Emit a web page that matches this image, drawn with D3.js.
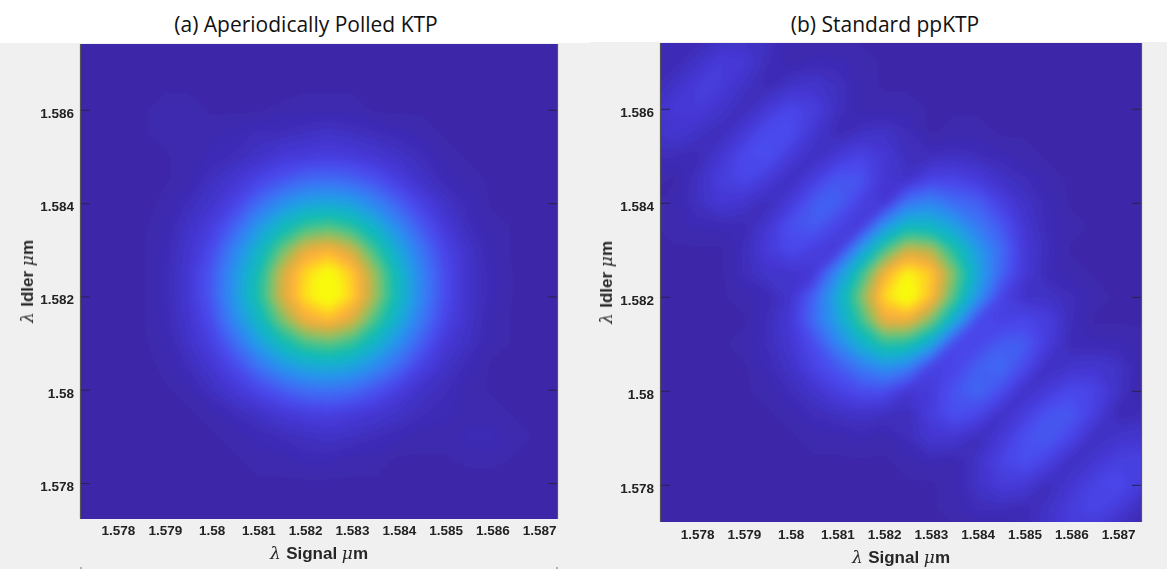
<!DOCTYPE html>
<html>
<head>
<meta charset="utf-8">
<script src="https://cdn.jsdelivr.net/npm/d3@7"></script>
<style>
html,body{margin:0;padding:0;background:#fff;overflow:hidden}
svg{display:block}
</style>
</head>
<body>
<svg id="chart" width="1167" height="569"></svg>
<script>
// Tick labels (micrometres)
const signalTicks = [1.578,1.579,1.58,1.581,1.582,1.583,1.584,1.585,1.586,1.587];
const idlerTicks  = [1.578,1.58,1.582,1.584,1.586];
const titleA = "(a) Aperiodically Polled KTP";
const titleB = "(b) Standard ppKTP";

// Wavelength grid for both panels: 22 samples per axis, 0.5 nm apart
const gridStart = 1.577, gridStep = 0.0005, gridSize = 22;

// Joint intensity, in percent of the peak.
// Rows run from the top of the plot (longest idler) to the bottom.
const aperiodicKTP = [
 [0,0,0,0,0,0,0,0,0,0,0,0,0,0,0,0,0,0,0,0,0,0],
 [0,0,1,1,0,0,0,0,0,0,0,0,0,0,0,0,0,0,0,0,0,0],
 [0,1,1,1,1,1,0,0,0,0,1,1,1,0,0,0,0,0,0,0,0,0],
 [0,0,1,1,2,2,1,1,1,2,2,2,2,1,1,1,0,0,0,0,0,0],
 [0,0,0,1,2,2,2,3,4,4,5,6,5,4,3,2,1,1,0,0,0,0],
 [0,0,0,0,1,2,3,4,6,9,10,11,10,8,6,4,2,1,1,0,0,0],
 [0,0,0,0,1,2,5,8,13,18,23,24,22,17,11,6,3,2,1,0,0,0],
 [0,0,0,0,2,4,7,13,24,34,40,42,39,31,21,12,6,3,1,1,0,0],
 [0,0,0,1,2,6,11,22,37,50,60,63,58,46,32,19,9,4,2,1,0,0],
 [0,0,0,1,3,7,15,31,47,66,80,84,77,60,42,26,13,6,2,1,0,0],
 [0,0,0,1,3,8,19,36,54,77,90,96,88,71,49,30,15,6,3,1,1,0],
 [0,0,0,1,3,8,19,37,56,78,91,98,89,72,50,31,15,6,3,1,1,0],
 [0,0,0,1,3,7,16,33,49,68,82,86,79,62,44,27,13,6,2,1,0,0],
 [0,0,0,1,2,6,12,24,39,52,62,65,60,48,34,20,9,5,2,1,0,0],
 [0,0,0,0,2,4,8,15,26,36,42,44,41,33,23,12,6,3,1,1,0,0],
 [0,0,0,0,1,2,5,9,14,20,25,26,24,18,11,6,4,2,1,0,0,0],
 [0,0,0,0,0,1,2,4,6,9,11,12,10,8,6,4,3,2,2,1,0,0],
 [0,0,0,0,0,0,1,2,3,4,5,6,5,4,3,2,2,3,3,2,1,0],
 [0,0,0,0,0,0,0,1,2,2,3,3,2,2,1,1,1,2,2,1,1,0],
 [0,0,0,0,0,0,0,0,1,1,1,1,1,1,1,1,0,0,0,0,0,0],
 [0,0,0,0,0,0,0,0,0,0,0,0,0,0,0,0,0,0,0,0,0,0],
 [0,0,0,0,0,0,0,0,0,0,0,0,0,0,0,0,0,0,0,0,0,0]
];
const standardPpKTP = [
 [3,4,3,5,6,5,2,1,1,1,1,1,0,0,0,0,0,0,0,0,0,0],
 [4,3,6,10,9,4,2,3,3,2,1,1,1,0,0,0,0,0,0,0,0,0],
 [3,6,10,10,6,3,6,7,5,2,1,1,1,1,0,0,0,0,0,0,0,0],
 [5,9,10,7,4,9,14,11,5,2,2,2,1,1,1,1,0,0,0,0,0,0],
 [6,8,6,4,9,16,16,8,3,5,6,4,1,2,2,1,1,1,0,0,0,0],
 [4,4,3,8,15,17,10,5,9,13,9,4,4,5,4,3,2,1,1,0,0,0],
 [2,1,5,11,14,10,5,11,19,18,8,6,13,13,10,6,4,2,1,1,1,0],
 [1,2,5,9,7,4,10,20,21,12,8,27,31,24,21,12,6,3,1,1,1,0],
 [1,2,3,3,3,8,17,20,13,10,36,50,48,40,28,19,8,3,2,1,1,1],
 [1,1,1,1,4,10,15,11,10,38,61,77,74,56,38,24,9,4,1,1,1,1],
 [1,1,1,1,4,7,7,9,34,58,83,94,88,68,42,22,9,3,2,1,1,1],
 [1,1,1,1,2,3,7,22,43,68,90,98,86,62,36,13,6,6,4,2,1,1],
 [0,0,1,1,1,4,9,24,40,60,81,82,68,44,15,12,14,11,4,1,1,1],
 [0,0,0,1,2,4,8,16,31,46,58,56,42,14,14,20,20,10,3,3,3,2],
 [0,0,0,1,1,3,6,13,19,28,35,30,12,13,21,24,15,5,7,8,6,2],
 [0,0,0,1,1,2,4,7,12,16,16,8,10,18,23,16,6,10,15,13,6,1],
 [0,0,0,0,1,1,2,4,5,6,5,4,11,17,14,6,11,18,19,11,3,4],
 [0,0,0,0,1,1,1,2,2,3,2,4,8,8,4,9,17,20,13,5,7,8],
 [0,0,0,0,0,1,1,1,1,1,1,2,3,2,6,13,17,12,5,8,12,13],
 [0,0,0,0,0,0,1,1,1,1,1,1,1,2,6,10,9,4,8,13,15,10],
 [0,0,0,0,0,0,0,0,1,1,1,1,1,2,4,4,3,6,11,14,10,4],
 [0,0,0,0,0,0,0,0,0,0,0,0,0,1,1,1,3,7,10,8,4,3]
];

// Colour ramp
const rampStops  = [0,3,8,15,24,34,45,52,62,70,77,84,89,94];
const rampColors = ["#3c26a4","#3e2cb4","#4436d2","#4a48ec","#3f6cf5","#2a8ff0","#17b0d0","#0cbab8","#3cc48c","#8cc060","#d0b040","#ffaf3c","#ffd020","#f8fa10"];

const color = d3.scaleLinear().domain(rampStops).range(rampColors).interpolate(d3.interpolateRgb).clamp(true);
const svg = d3.select("#chart");
const sansBold = "'Liberation Sans',Arial,sans-serif";

svg.append("rect").attr("x",0).attr("y",43).attr("width",1167).attr("height",526).attr("fill","#f0f0f0");
svg.append("rect").attr("x",590).attr("y",42).attr("width",577).attr("height",2).attr("fill","#f0f0f0");

const defs = svg.append("defs");
defs.append("filter").attr("id","soft")
  .attr("filterUnits","userSpaceOnUse").attr("x",-100).attr("y",-100).attr("width",1400).attr("height",800)
  .append("feGaussianBlur").attr("stdDeviation",4);
defs.append("filter").attr("id","textSoft")
  .append("feGaussianBlur").attr("stdDeviation",0.35);

function panel(cfg){
  const x = d3.scaleLinear().domain(cfg.xDomain).range([cfg.left,cfg.right]);
  const y = d3.scaleLinear().domain(cfg.yDomain).range([cfg.bottom,cfg.top]);
  defs.append("clipPath").attr("id",cfg.id).append("rect")
    .attr("x",cfg.left).attr("y",cfg.top).attr("width",cfg.right-cfg.left).attr("height",cfg.bottom-cfg.top);

  const flat = cfg.values.flat();
  const levels = d3.range(0,100,1.25);
  const contours = d3.contours().size([gridSize,gridSize]).thresholds(levels)(flat);
  const toPixels = d3.geoTransform({point(gx,gy){
    this.stream.point(
      x(gridStart+gridStep*(gx-0.5)),
      y(gridStart+gridStep*(gridSize-1-(gy-0.5))));
  }});
  const path = d3.geoPath(toPixels);
  const g = svg.append("g").attr("clip-path",`url(#${cfg.id})`);
  const inner = g.append("g").attr("filter","url(#soft)");
  inner.append("rect").attr("x",cfg.left-30).attr("y",cfg.top-30)
    .attr("width",cfg.right-cfg.left+60).attr("height",cfg.bottom-cfg.top+60).attr("fill",color(0));
  inner.selectAll("path").data(contours).join("path")
    .attr("d",path).attr("fill",d=>color(d.value+0.6));

  const fmt = d3.format(".4~f");
  const style = a=>{
    a.selectAll("text").attr("font-family",sansBold).attr("font-weight","bold").attr("font-size",13.5).attr("fill","#222").attr("filter","url(#textSoft)");
    a.selectAll("line").attr("stroke","#2a2350");
    a.select(".domain").remove();
  };
  svg.append("g").attr("transform",`translate(${cfg.left},0)`)
    .call(d3.axisLeft(y).tickValues(idlerTicks).tickSize(-9).tickPadding(7).tickFormat(fmt))
    .call(style).selectAll("text").attr("dy","0.55em");
  svg.append("g").attr("transform",`translate(${cfg.right},0)`)
    .call(d3.axisRight(y).tickValues(idlerTicks).tickSize(-9).tickFormat(""))
    .call(style);
  svg.append("g").attr("transform",`translate(0,${cfg.bottom})`)
    .call(d3.axisBottom(x).tickValues(signalTicks).tickSize(0).tickPadding(cfg.xPad).tickFormat(fmt))
    .call(style);

  [cfg.left-0.5,cfg.right+0.5].forEach(px=>{
    svg.append("line").attr("x1",px).attr("x2",px).attr("y1",cfg.top).attr("y2",cfg.bottom)
      .attr("stroke","#555").attr("stroke-width",1.2);
  });

  const axisTitle = (sel,word)=>{
    sel.attr("font-family",sansBold).attr("font-size",17).attr("fill","#262626").attr("text-anchor","middle").attr("filter","url(#textSoft)");
    sel.append("tspan").attr("font-family","'DejaVu Serif',serif").attr("font-style","italic").attr("font-weight","normal").text("λ ");
    sel.append("tspan").attr("font-weight","bold").text(word+" ");
    sel.append("tspan").attr("font-family","'DejaVu Serif',serif").attr("font-style","italic").attr("font-weight","normal").text("μ");
    sel.append("tspan").attr("font-weight","bold").text("m");
  };
  svg.append("text").attr("x",(cfg.left+cfg.right)/2).attr("y",cfg.xTitleY).call(axisTitle,"Signal");
  svg.append("text").attr("transform",`translate(${cfg.yTitleX},${(cfg.top+cfg.bottom)/2}) rotate(-90)`).call(axisTitle,"Idler");

  svg.append("text").attr("x",cfg.titleX).attr("y",32).attr("text-anchor","middle")
    .attr("font-family","'Open Sans',sans-serif").attr("font-size",cfg.titleSize).attr("fill","#111").text(cfg.title);
}

panel({id:"clipA",title:titleA,titleX:306,titleSize:21,values:aperiodicKTP,
  left:81,right:557,top:44,bottom:519,
  xDomain:[1.57721,1.58738],yDomain:[1.57723,1.58741],
  xPad:6,xTitleY:559,yTitleX:33});
panel({id:"clipB",title:titleB,titleX:885,titleSize:21,values:standardPpKTP,
  left:661,right:1141,top:43,bottom:522,
  xDomain:[1.57723,1.58749],yDomain:[1.57721,1.5874],
  xPad:7,xTitleY:563,yTitleX:612});

// small marks on the bottom edge of the picture
[81,557].forEach(px=>svg.append("line").attr("x1",px).attr("x2",px).attr("y1",567).attr("y2",569).attr("stroke","#777"));
</script>
</body>
</html>
